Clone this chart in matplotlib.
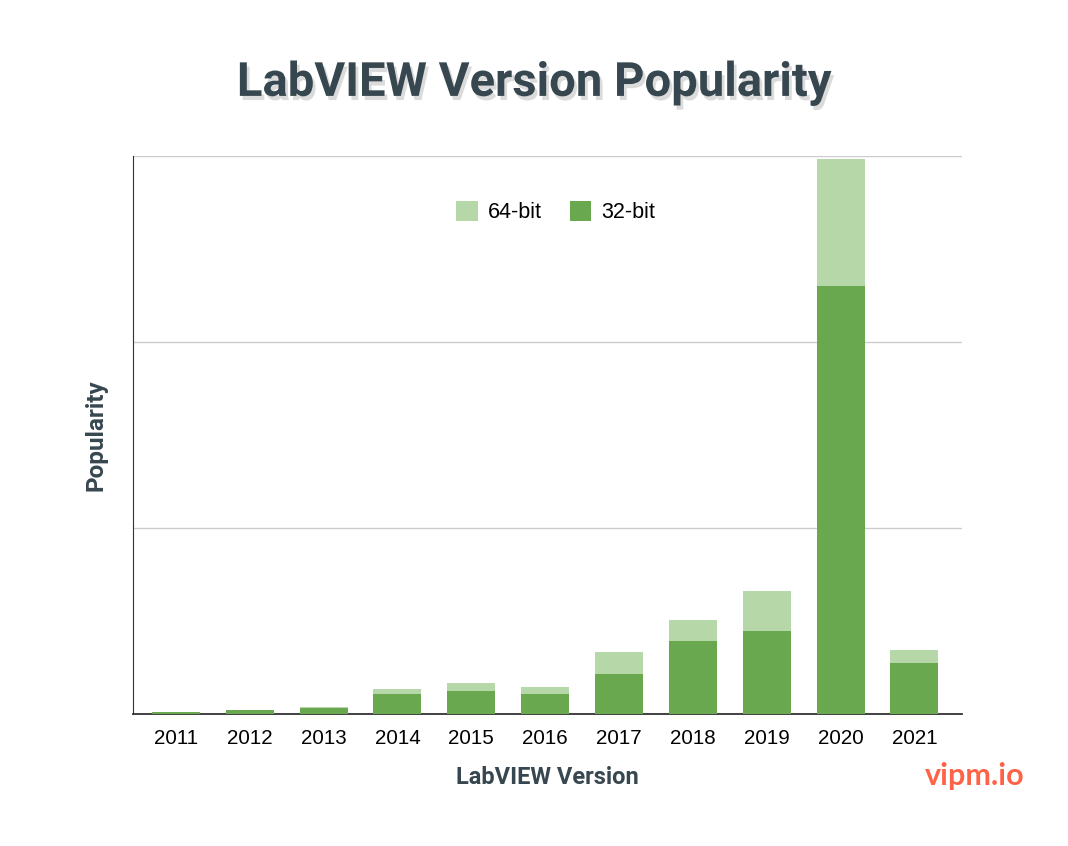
import numpy as np
import matplotlib.pyplot as plt
import matplotlib.patheffects as pe

# データ
years = ['2011', '2012', '2013', '2014', '2015', '2016',
         '2017', '2018', '2019', '2020', '2021']
bit32 = [0.012, 0.022, 0.030, 0.108, 0.125, 0.108, 0.215, 0.392, 0.448, 2.30, 0.272]
bit64 = [0.000, 0.000, 0.010, 0.026, 0.040, 0.037, 0.118, 0.115, 0.213, 0.68, 0.070]

c32 = '#6aa84f'
c64 = '#b6d7a8'
dark = '#37474f'

plt.rcParams['font.family'] = ['Roboto', 'DejaVu Sans']

fig = plt.figure(figsize=(10.68, 8.46), dpi=100)
ax = fig.add_axes([0.1245, 0.156, 0.776, 0.66])

x = np.arange(len(years))
ax.bar(x, bit32, width=0.65, color=c32, label='32-bit', zorder=3)
ax.bar(x, bit64, width=0.65, bottom=bit32, color=c64, label='64-bit', zorder=3)

ax.set_xlim(-0.58, 10.64)
ax.set_ylim(0, 3)
ax.set_yticks([0, 1, 2, 3])
ax.set_yticklabels([])
ax.tick_params(axis='y', length=0)
ax.tick_params(axis='x', length=0, pad=11)
ax.set_xticks(x)
ax.set_xticklabels(years, family=['Liberation Sans'], fontsize=14.8)
ax.grid(axis='y', color='#cccccc', lw=1, zorder=0)
for s in ['top', 'right']:
    ax.spines[s].set_visible(False)
ax.spines['left'].set_color('#333333')
ax.spines['bottom'].set_color('#333333')
ax.spines['bottom'].set_linewidth(1.3)

ax.set_xlabel('LabVIEW Version', fontsize=17, fontweight='bold', color=dark, labelpad=13)
ax.set_ylabel('Popularity', fontsize=17.5, fontweight='bold', color=dark, labelpad=15)

h, l = ax.get_legend_handles_labels()
leg = ax.legend(h[::-1], l[::-1], loc='upper center', bbox_to_anchor=(0.51, 0.953),
                ncol=2, frameon=False, handlelength=1.0, handleheight=1.0,
                columnspacing=1.3, handletextpad=0.45,
                prop={'family': 'Liberation Sans', 'size': 15.5})

t = fig.text(0.5, 0.902, 'LabVIEW Version Popularity', ha='center', va='center',
             fontsize=34, fontweight='bold', color=dark)
t.set_path_effects([pe.withSimplePatchShadow(offset=(2, -3), shadow_rgbFace='#999999', alpha=0.35)])

fig.text(0.913, 0.083, 'vipm.io', ha='center', va='center', fontsize=22,
         fontweight='bold', color='#ff6347', family=['Lato', 'DejaVu Sans'])

fig.savefig('out.png', dpi=100)
